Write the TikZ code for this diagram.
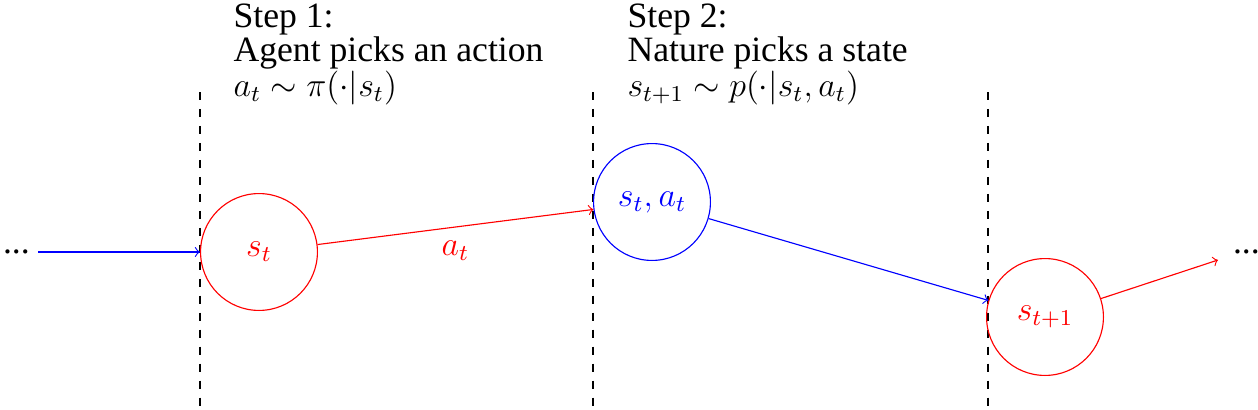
\documentclass[tikz,border=0pt]{standalone}
\usepackage{fontspec}
\setmainfont{Liberation Serif}[Scale=1.05]
\begin{document}
\begin{tikzpicture}[x=0.3534pt,y=-0.3534pt,
  font=\fontsize{12}{12.2}\selectfont,
  statenode/.style={circle,draw,minimum size=41.3pt,inner sep=0pt},
  divider/.style={dashed,black},
  steptext/.style={anchor=north west,align=left,inner sep=0pt}]
\useasboundingbox (0,0) rectangle (1258,410);
% dividers
\draw[divider] (200,92) -- (200,410);
\draw[divider] (593,92) -- (593,410);
\draw[divider] (988,92) -- (988,410);
% step texts
\node[steptext] (t1) at (233,3) {Step 1:\\Agent picks an action\\$a_t\sim\pi(\cdot|s_t)$};
\node[steptext] (t2) at (627,3) {Step 2:\\Nature picks a state\\$s_{t+1}\sim p(\cdot|s_t,a_t)$};
% nodes
\node[statenode,red] (st) at (259,252) {$s_t$};
\node[statenode,blue] (sa) at (652,202) {$s_t,a_t$};
\node[statenode,red] (sn) at (1045,317) {$s_{t+1}$};
\node[anchor=base west,inner sep=0pt] (ldots) at (2.5,253) {...};
\node[anchor=base west,inner sep=0pt] (rdots) at (1232.5,253) {...};
\coordinate (lstart) at (38,252);
\coordinate (rend) at (1218,260);
% connectors
\draw[blue,->] (lstart) -- (st);
\draw[red,->] (st) -- node[midway,yshift=-24*0.3534pt,text=red] (al) {$a_t$} (sa);
\draw[blue,->] (sa) -- (sn);
\draw[red,->] (sn) -- (rend);
\end{tikzpicture}
\end{document}
